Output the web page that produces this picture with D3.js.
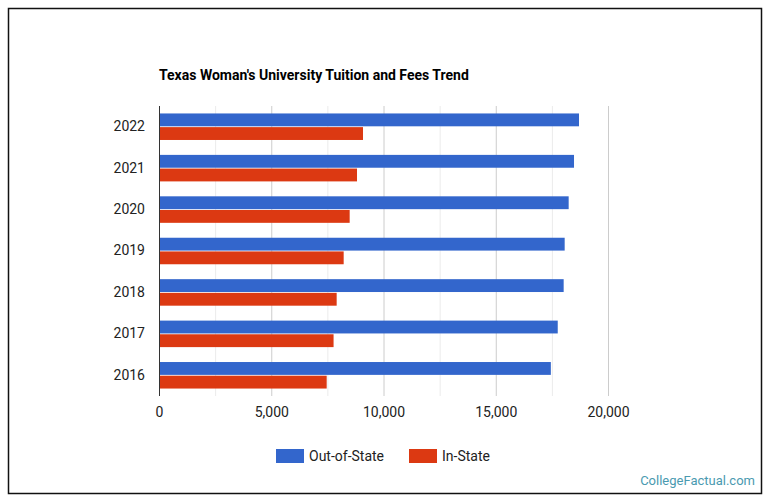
<!DOCTYPE html>
<html>
<head>
<meta charset="utf-8">
<script src="https://cdn.jsdelivr.net/npm/d3@7"></script>
<style>
  body { margin: 0; background: #fff; }
  svg { font-family: Roboto, Arial, sans-serif; display: block; }
</style>
</head>
<body>
<div id="chart"></div>
<script>
// data
const years = ["2022", "2021", "2020", "2019", "2018", "2017", "2016"];
const seriesNames = ["Out-of-State", "In-State"];
const outOfState = [18708, 18486, 18248, 18070, 18025, 17761, 17454];
const inState = [9087, 8820, 8493, 8226, 7914, 7776, 7469];
const xTicks = [0, 5000, 10000, 15000, 20000];
const minorTicks = [2500, 7500, 12500, 17500];
const colors = ["#3366cc", "#dc3912"];

const width = 770;
const height = 503;
const margin = { left: 159, right: 162, top: 106, bottom: 107 };

const rows = years.map((y, i) => ({ year: y, values: [outOfState[i], inState[i]] }));

const svg = d3.select('#chart')
    .append('svg')
    .attr('width', width)
    .attr('height', height);

// frame
svg.append('rect')
    .attr('x', 8.5).attr('y', 8.5)
    .attr('width', 753).attr('height', 485)
    .attr('fill', '#fff')
    .attr('stroke', '#111')
    .attr('stroke-width', 1.5);

const xScale = d3.scaleLinear()
    .domain([0, 20000])
    .range([margin.left, width - margin.right]);

const yScale = d3.scaleBand()
    .domain(years)
    .range([margin.top, height - margin.bottom])
    .paddingInner(0.36)
    .paddingOuter(0.18);

const inner = d3.scaleBand()
    .domain(d3.range(seriesNames.length))
    .range([0, yScale.bandwidth()])
    .paddingInner(0.06);

const plotTop = margin.top;
const plotBottom = height - margin.bottom;

// gridlines
svg.append('g').selectAll('line')
    .data(minorTicks)
    .enter().append('line')
    .attr('x1', d => xScale(d) + 0.5).attr('x2', d => xScale(d) + 0.5)
    .attr('y1', plotTop).attr('y2', plotBottom)
    .attr('stroke', '#ebebeb');

svg.append('g').selectAll('line')
    .data(xTicks.slice(1))
    .enter().append('line')
    .attr('x1', d => xScale(d) + 0.5).attr('x2', d => xScale(d) + 0.5)
    .attr('y1', plotTop).attr('y2', plotBottom)
    .attr('stroke', '#cccccc');

// bars
const groups = svg.append('g').selectAll('g')
    .data(rows)
    .enter().append('g')
    .attr('transform', d => `translate(0, ${yScale(d.year)})`);

groups.selectAll('rect')
    .data(d => d.values)
    .enter().append('rect')
    .attr('x', xScale(0))
    .attr('y', (d, i) => inner(i))
    .attr('width', d => xScale(d) - xScale(0))
    .attr('height', inner.bandwidth())
    .attr('fill', (d, i) => colors[i]);

// baseline
svg.append('line')
    .attr('x1', xScale(0) + 0.5).attr('x2', xScale(0) + 0.5)
    .attr('y1', plotTop).attr('y2', plotBottom)
    .attr('stroke', '#333');

// x axis labels
const xAxis = d3.axisBottom(xScale)
    .tickValues(xTicks)
    .tickFormat(d3.format(','))
    .tickSize(0)
    .tickPadding(0);

const gx = svg.append('g')
    .attr('transform', `translate(0, ${plotBottom + 11})`)
    .call(xAxis);
gx.select('.domain').remove();
gx.selectAll('text')
    .attr('font-size', 14)
    .attr('fill', '#222')
    .attr('font-family', 'Roboto, Arial, sans-serif');

// y axis labels
const yAxis = d3.axisLeft(yScale)
    .tickSize(0)
    .tickPadding(14);

const gy = svg.append('g')
    .attr('transform', `translate(${margin.left}, 0)`)
    .call(yAxis);
gy.select('.domain').remove();
gy.selectAll('text')
    .attr('font-size', 14)
    .attr('fill', '#222')
    .attr('font-family', 'Roboto, Arial, sans-serif');

// title
svg.append('text')
    .attr('x', margin.left)
    .attr('y', 80)
    .attr('font-size', 14)
    .attr('font-weight', 'bold')
    .attr('fill', '#000')
    .text("Texas Woman's University Tuition and Fees Trend");

// legend
const legendX = [276, 409];
const legend = svg.append('g').selectAll('g')
    .data(seriesNames)
    .enter().append('g')
    .attr('transform', (d, i) => `translate(${legendX[i]}, 449)`);

legend.append('rect')
    .attr('width', 28)
    .attr('height', 14)
    .attr('fill', (d, i) => colors[i]);

legend.append('text')
    .attr('x', 33)
    .attr('y', 12)
    .attr('font-size', 14)
    .attr('fill', '#222')
    .text(d => d);

// watermark
svg.append('text')
    .attr('x', 755)
    .attr('y', 485)
    .attr('text-anchor', 'end')
    .attr('font-size', 13)
    .attr('fill', '#4a9ab0')
    .text('CollegeFactual.com');
</script>
</body>
</html>
